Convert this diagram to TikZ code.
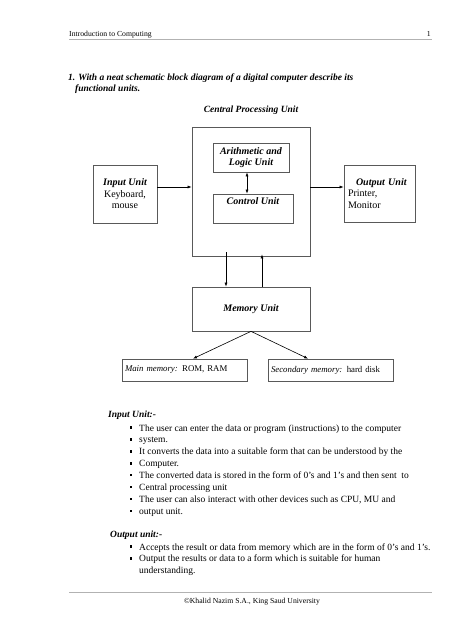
\documentclass[tikz,border=0pt]{standalone}
\usepackage{fontspec}
\setmainfont{Liberation Serif}
\usetikzlibrary{arrows.meta}
\begin{document}
\begin{tikzpicture}[x=1pt,y=-1pt,
 box/.style={draw=black!65,line width=0.7pt,inner sep=0pt,align=center,
  font=\fontsize{10}{11.5}\selectfont\bfseries\itshape},
 memtext/.style={box,minimum width=125pt,minimum height=22pt,text width=119pt,align=left,
  font=\fontsize{8.8}{10}\selectfont},
 arr/.style={-{Latex[length=4pt,width=3pt]},line width=0.6pt},
 body/.style={anchor=base west,inner sep=0pt,font=\fontsize{9.5}{10}\selectfont},
 head/.style={anchor=base west,inner sep=0pt,font=\fontsize{9.5}{10}\selectfont\bfseries\itshape},
 small/.style={inner sep=0pt,font=\fontsize{7.7}{8}\selectfont},
 rule/.style={black!30,line width=0.8pt}]
 \useasboundingbox[fill=white] (0,0) rectangle (474,632);
 \node[small,anchor=base west] (hd) at (69,36) {Introduction to Computing};
 \node[small,anchor=base east] (pg) at (431,36) {1};
 \draw[rule] (69,39) -- (432,39);
 \node[head] (q1) at (68,80) {1. With a neat schematic block diagram of a digital computer describe its};
 \node[head] (q2) at (75,91) {functional units.};
 \node[head,anchor=center] (cputitle) at (251,110) {Central Processing Unit};
 \node[box,minimum width=118pt,minimum height=129pt] (cpu) at (251,191.5) {};
 \node[box,minimum width=76pt,minimum height=29pt] (alu) at (251,157.5) {Arithmetic and\\Logic Unit};
 \node[box,minimum width=80pt,minimum height=29pt,
  label={[box,draw=none,anchor=north,yshift=-4pt]north:Control Unit}] (cu) at (253,208.5) {};
 \node[box,minimum width=64pt,minimum height=58pt] (in) at (125,194)
  {Input Unit\\{\mdseries\upshape Keyboard,}\\{\mdseries\upshape mouse}};
 \node[box,minimum width=71pt,minimum height=57pt,text width=63pt,align=left] (out) at (379.5,193.5)
  {\hspace*{8pt}Output Unit\\{\mdseries\upshape Printer,}\\{\mdseries\upshape Monitor}};
 \node[box,minimum width=118pt,minimum height=44pt] (mem) at (251,309) {Memory Unit};
 \node[memtext] (main) at (184.5,370) {\textit{Main memory:} ROM, RAM};
 \node[memtext] (sec) at (330.5,370) {\textit{Secondary memory:} hard disk};
 \draw[arr] ([yshift=7pt]in.east) -- ([yshift=7pt]in.east -| cpu.west);
 \draw[arr] ([yshift=6.5pt]out.west -| cpu.east) -- ([yshift=6.5pt]out.west);
 \draw[line width=0.6pt,{Latex[length=4pt,width=3pt]}-{Latex[length=4pt,width=3pt]}]
  ([xshift=-4pt]alu.south) -- ([xshift=-4pt]alu.south |- cu.north);
 \draw[arr] ([xshift=-25pt,yshift=4pt]cpu.south) -- ([xshift=-25pt]mem.north);
 \draw[arr] ([xshift=11pt]mem.north) -- ([xshift=11pt,yshift=2pt]cpu.south);
 \draw[arr] (mem.south) -- ([xshift=8.5pt]main.north);
 \draw[arr] (mem.south) -- ([xshift=-22.5pt]sec.north);
 \node[head] (inhead) at (108,417) {Input Unit:-};
 \foreach \t [count=\i from 0] in {{The user can enter the data or program (instructions) to the computer},
  {system.},{It converts the data into a suitable form that can be understood by the},
  {Computer.},{The converted data is stored in the form of 0's and 1's and then sent\ \ to},
  {Central processing unit},{The user can also interact with other devices such as CPU, MU and},
  {output unit.}} {
  \fill (129.8,{426.4+11.9*\i}) rectangle ++(2.4,2.4);
  \node[body] (inl\i) at (139,{431+11.9*\i}) {\t};
 }
 \node[head] (outhead) at (110,537) {Output unit:-};
 \foreach \t [count=\i from 0] in {{Accepts the result or data from memory which are in the form of 0's and 1's.},
  {Output the results or data to a form which is suitable for human}} {
  \fill (129.8,{545.4+11.9*\i}) rectangle ++(2.4,2.4);
  \node[body] (outl\i) at (139,{550+11.9*\i}) {\t};
 }
 \node[body] (outl2) at (139,573.8) {understanding.};
 \draw[rule] (69,592) -- (432,592);
 \node[small,anchor=base] (ft) at (252,603) {©Khalid Nazim S.A., King Saud University};
\end{tikzpicture}
\end{document}
